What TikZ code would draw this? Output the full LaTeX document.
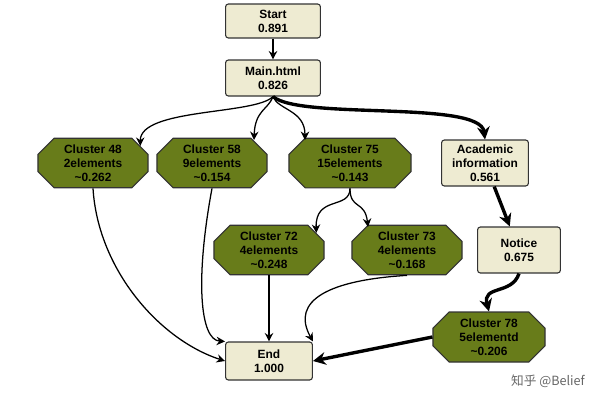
\documentclass[tikz,border=0pt]{standalone}
\usepackage{fontspec}
\setmainfont{Liberation Sans}
\newfontfamily\cjk{Noto Sans CJK SC}
\usetikzlibrary{arrows.meta,shapes.misc,positioning}
\definecolor{olive4}{RGB}{104,124,26}
\definecolor{beige1}{RGB}{238,235,210}
\begin{document}
\begin{tikzpicture}
  [x=0.025cm,y=-0.025cm,
    every node/.style={font=\bfseries\fontsize{8.5}{10}\selectfont,align=center,inner sep=1pt,line width=0.8pt,draw=black!80},
    page/.style={rectangle,rounded corners=2pt,fill=beige1},
    cluster/.style={chamfered rectangle,chamfered rectangle xsep=8pt,fill=olive4},
    link/.style={-{Stealth[length=6pt,width=6pt]},line width=0.9pt},
    heavy/.style={-{Stealth[length=9pt,width=9pt]},line width=2.4pt}]
  \useasboundingbox (0,0) rectangle (600,404);
  \node[page,minimum height=34*0.025cm,text width=2.3cm] (start) at (273,21) {Start\\0.891};
  \node[page,minimum height=36*0.025cm,text width=2.3cm] (main) at (273,78) {Main.html\\0.826};
  \node[cluster,minimum width=2.75cm,minimum height=47*0.025cm] (c48) at (93,163) {Cluster 48\\2elements\\\textasciitilde0.262};
  \node[cluster,minimum width=2.75cm,minimum height=47*0.025cm] (c58) at (212,163) {Cluster 58\\9elements\\\textasciitilde0.154};
  \node[cluster,minimum width=3.05cm,minimum height=47*0.025cm] (c75) at (350,163) {Cluster 75\\15elements\\\textasciitilde0.143};
  \node[page,minimum height=46*0.025cm,text width=2.1cm] (acad) at (485,163) {Academic\\information\\0.561};
  \node[cluster,minimum width=2.75cm,minimum height=46*0.025cm] (c72) at (269,250) {Cluster 72\\4elements\\\textasciitilde0.248};
  \node[cluster,minimum width=2.75cm,minimum height=46*0.025cm] (c73) at (407,250) {Cluster 73\\4elements\\\textasciitilde0.168};
  \node[page,minimum height=46*0.025cm,text width=2cm] (notice) at (519,250) {Notice\\0.675};
  \node[cluster,minimum width=2.8cm,minimum height=50*0.025cm] (c78) at (489,337) {Cluster 78\\5elementd\\\textasciitilde0.206};
  \node[page,minimum height=38*0.025cm,text width=2.1cm] (end) at (269,361) {End\\1.000};
  \node[draw=none,font=\cjk\small,text=black!60] (mark) at (548,381) {知乎 @Belief};
  % links
  \draw[link,line width=1.3pt] (start) -- (main);
  \draw[link] (main.south) .. controls (255,115) and (140,108) .. (c48.north east);
  \draw[link] (main.south) .. controls (268,110) and (255,110) .. (254,140);
  \draw[link] (main.south) .. controls (278,110) and (305,110) .. (305,140);
  \draw[heavy] (main.south) .. controls (300,120) and (480,100) .. (acad.north);
  \draw[heavy] (acad) -- (notice);
  \draw[heavy] (notice.south) .. controls (512,295) and (482,285) .. (c78.north);
  \draw[heavy] (c78.west) -- (end.east);
  \draw[link] (c75.south) .. controls (350,210) and (315,195) .. (c72.north east);
  \draw[link] (c75.south) .. controls (350,210) and (365,200) .. (368,227);
  \draw[link] (c48.south) .. controls (98,270) and (160,340) .. (end.west);
  \draw[link] (c58.south) .. controls (195,280) and (200,340) .. (end.north west);
  \draw[link] (c72.south) -- (end.north);
  \draw[link] (c73.south) .. controls (330,280) and (290,300) .. (end.north east);
\end{tikzpicture}
\end{document}
